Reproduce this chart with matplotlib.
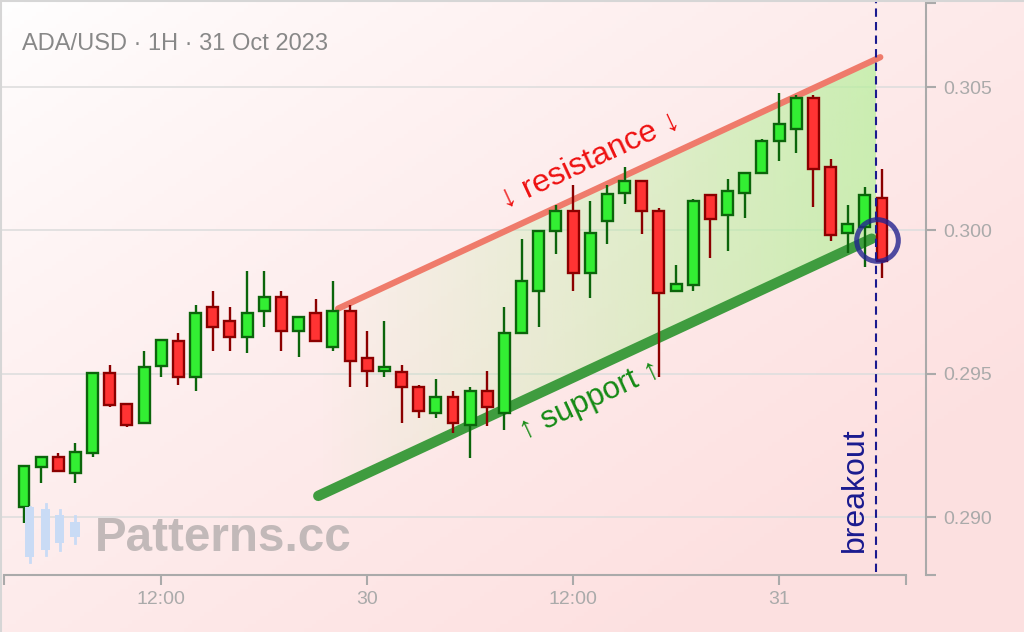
#!/usr/bin/env python
# Filename: plot.py
"""
ADA/USD 1H candles with a rising channel and a breakout marker.
"""

import numpy as np
import matplotlib
matplotlib.use('Agg')
import matplotlib.pyplot as plt
from matplotlib.patches import Polygon, Rectangle
from matplotlib.lines import Line2D

plt.rcParams['font.family'] = ['Liberation Sans', 'DejaVu Sans']

title = 'ADA/USD · 1H · 31 Oct 2023'

# hourly candles, 29 Oct 04:00 -> 31 Oct 06:00
opens = [0.29035, 0.29173, 0.29209, 0.29153, 0.29223, 0.29503, 0.29394, 0.29327, 0.29528, 0.29615,
         0.29487, 0.29734, 0.29685, 0.29627, 0.29719, 0.29768, 0.29649, 0.29713, 0.29593, 0.29720,
         0.29554, 0.29510, 0.29505, 0.29455, 0.29362, 0.29420, 0.29321, 0.29441, 0.29363, 0.29641,
         0.29788, 0.29998, 0.30069, 0.29850, 0.30033, 0.30131, 0.30173, 0.30069, 0.29789, 0.29809,
         0.30123, 0.30053, 0.30129, 0.30199, 0.30312, 0.30353, 0.30461, 0.30222, 0.29990, 0.30013,
         0.30112]
highs = [0.29180, 0.29210, 0.29223, 0.29258, 0.29506, 0.29530, 0.29394, 0.29579, 0.29620, 0.29641,
         0.29740, 0.29788, 0.29732, 0.29858, 0.29858, 0.29788, 0.29699, 0.29759, 0.29823, 0.29740,
         0.29649, 0.29684, 0.29530, 0.29460, 0.29481, 0.29440, 0.29452, 0.29509, 0.29733, 0.29970,
         0.29999, 0.30088, 0.30158, 0.30102, 0.30158, 0.30221, 0.30176, 0.30079, 0.29879, 0.30109,
         0.30123, 0.30179, 0.30201, 0.30318, 0.30478, 0.30472, 0.30472, 0.30249, 0.30088, 0.30150,
         0.30213]
lows = [0.28979, 0.29120, 0.29160, 0.29119, 0.29210, 0.29385, 0.29315, 0.29324, 0.29489, 0.29460,
        0.29441, 0.29580, 0.29580, 0.29573, 0.29664, 0.29580, 0.29559, 0.29614, 0.29580, 0.29455,
        0.29455, 0.29489, 0.29329, 0.29344, 0.29344, 0.29295, 0.29205, 0.29317, 0.29302, 0.29641,
        0.29664, 0.29916, 0.29789, 0.29763, 0.29951, 0.30091, 0.29986, 0.29489, 0.29789, 0.29789,
        0.29902, 0.29929, 0.30042, 0.30195, 0.30243, 0.30271, 0.30082, 0.29964, 0.29922, 0.29873,
        0.29833]
closes = [0.29178, 0.29210, 0.29160, 0.29227, 0.29503, 0.29391, 0.29320, 0.29524, 0.29617, 0.29487,
          0.29713, 0.29662, 0.29627, 0.29713, 0.29768, 0.29649, 0.29699, 0.29614, 0.29720, 0.29544,
          0.29509, 0.29524, 0.29452, 0.29370, 0.29420, 0.29327, 0.29441, 0.29383, 0.29643, 0.29824,
          0.29999, 0.30069, 0.29850, 0.29992, 0.30126, 0.30173, 0.30067, 0.29781, 0.29812, 0.30103,
          0.30040, 0.30138, 0.30201, 0.30313, 0.30370, 0.30461, 0.30213, 0.29984, 0.30021, 0.30123,
          0.29893]

x_tick_idx = [8, 20, 32, 44]
x_tick_labels = ['12:00', '30', '12:00', '31']
y_ticks = [0.290, 0.295, 0.300, 0.305]

# channel lines (candle index, price)
support_x = [17.15, 49.4]
support_y = [0.29074, 0.29971]
resist_x = [18.3, 49.9]
resist_y = [0.29727, 0.30604]
breakout_x = 49.65
breakout_circle = (49.71, 0.29966)


def line_at(xs, ys, x):
    k = (ys[1] - ys[0]) / (xs[1] - xs[0])
    return ys[0] + k * (x - xs[0])


fig = plt.figure(figsize=(10.24, 6.32), dpi=100)

# background gradient
bg = fig.add_axes([0, 0, 1, 1], zorder=-10)
gx, gy = np.meshgrid(np.linspace(0, 1, 256), np.linspace(0, 1, 160))
t = np.clip(gx * 0.65 + gy * 0.6, 0, 1) ** 0.8
c0 = np.array([1.0, 1.0, 1.0])
c1 = np.array([0.992, 0.882, 0.882])
img = c0[None, None, :] * (1 - t[..., None]) + c1[None, None, :] * t[..., None]
bg.imshow(img, aspect='auto', extent=[0, 1, 0, 1], origin='upper')
bg.set_axis_off()
fig.add_artist(Line2D([0, 1], [0.999, 0.999], color='#d6d6d6', lw=1.5))
fig.add_artist(Line2D([0.001, 0.001], [0, 1], color='#d6d6d6', lw=1.5))

ax = fig.add_axes([0, 57 / 632, 926 / 1024, 572 / 632])
ax.set_facecolor('none')
ax.set_xlim(-1.3986, 52.564)
ax.set_ylim(0.28798, 0.30793)

# channel fill with a left-to-right gradient
fx0, fx1 = support_x[0], breakout_x
poly = Polygon([(fx0, line_at(support_x, support_y, fx0)),
                (fx1, line_at(support_x, support_y, fx1)),
                (fx1, line_at(resist_x, resist_y, fx1)),
                (fx0, line_at(resist_x, resist_y, fx0))],
               closed=True, facecolor='none', edgecolor='none')
ax.add_patch(poly)
grad = np.zeros((2, 200, 4))
grad[..., 0] = 181 / 255
grad[..., 1] = 240 / 255
grad[..., 2] = 154 / 255
grad[..., 3] = np.linspace(0, 0.7, 200)[None, :]
gim = ax.imshow(grad, aspect='auto', extent=[fx0, fx1, 0.2880, 0.3080],
                origin='lower', zorder=1)
gim.set_clip_path(poly)

ax.plot(resist_x, resist_y, color='#ef7b6b', lw=4.5, solid_capstyle='round', zorder=2)
ax.plot(support_x, support_y, color='#3f9c3f', lw=7.5, solid_capstyle='round', zorder=2)

# candles
idx = np.arange(len(opens))
for i in idx:
    o, h, l, c = opens[i], highs[i], lows[i], closes[i]
    if c >= o:
        face, edge = '#33ee33', '#0b650b'
    else:
        face, edge = '#ff3333', '#8b0000'
    ax.vlines(i, l, h, color=edge, lw=1.7, zorder=3)
    ax.add_patch(Rectangle((i - 0.32, min(o, c)), 0.64, max(abs(c - o), 0.00002),
                           facecolor=face, edgecolor=edge, lw=1.7, zorder=4))

ax.axvline(breakout_x, ymin=0.005, ymax=1.006, color='#1a1a8f', lw=1.5,
           dashes=(4, 2.5), zorder=5, clip_on=False)
ax.plot([breakout_circle[0]], [breakout_circle[1]], marker='o', markersize=30,
        markerfacecolor='none', markeredgecolor='#23238f', markeredgewidth=3.6,
        alpha=0.8, zorder=6)

ax.text(33.0, 0.30245, '↓ resistance ↓', color='#ee1111', fontsize=23,
        rotation=24.9, rotation_mode='anchor', ha='center', va='center', zorder=6)
ax.text(33.0, 0.29408, '↑ support ↑', color='#148a14', fontsize=22.5,
        rotation=24.9, rotation_mode='anchor', ha='center', va='center', zorder=6)
ax.text(48.43, 0.29094, 'breakout', color='#1a1a8f', fontsize=23,
        rotation=90, ha='center', va='center', zorder=6)

# axes styling
for s in ['left', 'top']:
    ax.spines[s].set_visible(False)
ax.spines['bottom'].set_bounds(-1.166, 51.4)
for s in ['bottom', 'right']:
    ax.spines[s].set_color('#aaaaaa')
    ax.spines[s].set_linewidth(1.5)
ax.yaxis.tick_right()
ax.set_yticks(y_ticks)
ax.set_yticklabels(['%.3f' % v for v in y_ticks])
ax.set_yticks([0.28798, 0.30793], minor=True)
ax.set_xticks(x_tick_idx)
ax.set_xticklabels(x_tick_labels)
ax.set_xticks([-1.166, 51.4], minor=True)
ax.tick_params(which='both', length=7.5, width=1.5, color='#aaaaaa',
               labelcolor='#aaaaaa', labelsize=14)
ax.tick_params(axis='x', which='major', pad=4)
ax.tick_params(axis='y', which='major', pad=5)
ax.grid(axis='y', which='major', color='#dedede', lw=1.2)
ax.set_axisbelow(True)

# title and watermark
fig.text(22 / 1024, 1 - 50 / 632, title, color='#888888', fontsize=17, va='baseline')
fig.text(95 / 1024, 1 - 551 / 632, 'Patterns.cc', color='#c2b9b9', fontsize=34.3,
         fontweight='bold', va='baseline')
logo = [(25, 34, 507, 557, 562, 562), (41, 50, 509, 550, 504, 555),
        (55, 64, 515, 543, 510, 550), (70, 80, 522, 537, 516, 543)]
for x0, x1, b0, b1, w0, w1 in logo:
    xc = (x0 + x1) / 2 / 1024
    fig.add_artist(Line2D([xc, xc], [1 - min(w0, b0) / 632, 1 - max(w1, b1) / 632],
                          color='#c9dbf5', lw=2))
    fig.add_artist(Rectangle((x0 / 1024, 1 - b1 / 632), (x1 - x0) / 1024, (b1 - b0) / 632,
                             facecolor='#c9dbf5', edgecolor='none'))

fig.savefig('out.png', dpi=100)
